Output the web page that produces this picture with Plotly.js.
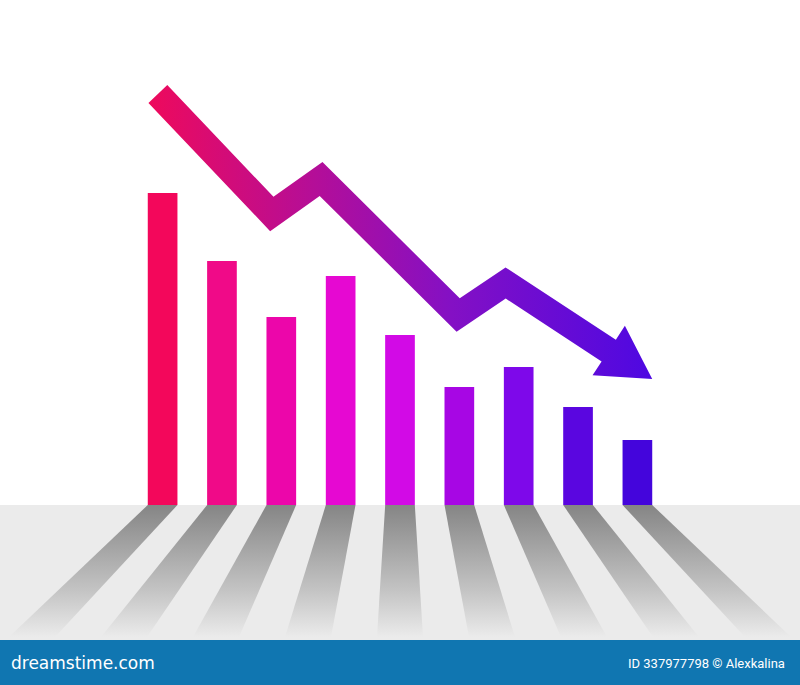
<!DOCTYPE html>
<html>
<head>
<meta charset="utf-8">
<script src="https://cdn.plot.ly/plotly-3.0.1.min.js"></script>
<style>
  html, body { margin: 0; padding: 0; background: #ffffff; }
  #chart { width: 800px; height: 685px; }
</style>
</head>
<body>
<div id="chart"></div>
<script>
// bar values
let barX = [0, 1, 2, 3, 4, 5, 6, 7, 8];
let barValues = [312, 244, 188, 229, 170, 118, 138, 98, 65];
let barColors = ["#f3075b", "#f00a88", "#ec06aa", "#e608d2", "#d20ae6",
                 "#a706e4", "#7e08ea", "#5a06e0", "#4405dc"];

// trend arrow (centre line), last point is the arrow tip
let trendX = [-0.08, 1.84, 2.67, 4.98, 5.78, 8.25];
let trendY = [411, 291, 326, 190, 222, 126];

let xRange = [-2.74, 10.74];
let yRange = [-180, 505];
let W = 800, H = 685;
let sx = W / (xRange[1] - xRange[0]);
let sy = H / (yRange[1] - yRange[0]);

function toPx(x, y) { return [(x - xRange[0]) * sx, y * sy]; }
function toData(p) { return [p[0] / sx + xRange[0], p[1] / sy]; }

function unit(a, b) {
    let dx = b[0] - a[0], dy = b[1] - a[1];
    let l = Math.sqrt(dx * dx + dy * dy);
    return [dx / l, dy / l];
}

function arrowPolygon(xs, ys, half, headLen, headHalf) {
    let pts = xs.map(function (x, i) { return toPx(x, ys[i]); });
    let n = pts.length;
    let tip = pts[n - 1];
    let dEnd = unit(pts[n - 2], tip);
    // shaft ends where the head begins
    let base = [tip[0] - dEnd[0] * headLen, tip[1] - dEnd[1] * headLen];
    let shaft = pts.slice(0, n - 1).concat([base]);

    let sideA = [], sideB = [];
    for (let i = 0; i < shaft.length; i++) {
        let off;
        if (i === 0 || i === shaft.length - 1) {
            let d = i === 0 ? unit(shaft[0], shaft[1]) : unit(shaft[i - 1], shaft[i]);
            off = [-d[1] * half, d[0] * half];
        } else {
            let d1 = unit(shaft[i - 1], shaft[i]);
            let d2 = unit(shaft[i], shaft[i + 1]);
            let n1 = [-d1[1], d1[0]], n2 = [-d2[1], d2[0]];
            let m = [n1[0] + n2[0], n1[1] + n2[1]];
            let ml = Math.sqrt(m[0] * m[0] + m[1] * m[1]);
            m = [m[0] / ml, m[1] / ml];
            let len = half / (m[0] * n1[0] + m[1] * n1[1]);
            off = [m[0] * len, m[1] * len];
        }
        sideA.push([shaft[i][0] + off[0], shaft[i][1] + off[1]]);
        sideB.push([shaft[i][0] - off[0], shaft[i][1] - off[1]]);
    }
    let nrm = [-dEnd[1], dEnd[0]];
    let headA = [base[0] + nrm[0] * headHalf, base[1] + nrm[1] * headHalf];
    let headB = [base[0] - nrm[0] * headHalf, base[1] - nrm[1] * headHalf];

    let poly = sideA.concat([headA, tip, headB], sideB.reverse());
    poly.push(poly[0]);
    poly = poly.map(toData);
    return { x: poly.map(function (p) { return p[0]; }), y: poly.map(function (p) { return p[1]; }) };
}

// perspective shadows on the floor, fanning out from the middle bar
function shadowTrace(i) {
    let w = 0.25, k = 1.55, depth = -132, mid = 4;
    let c2 = mid + (i - mid) * k;
    return {
        x: [i - w, i + w, c2 + w * k, c2 - w * k, i - w],
        y: [0, 0, depth, depth, 0],
        type: "scatter",
        mode: "lines",
        fill: "toself",
        line: { width: 0, color: "rgba(0,0,0,0)" },
        fillgradient: {
            type: "vertical",
            colorscale: [[0, "#ebebeb"], [0.35, "#c4c4c4"], [1, "#858585"]]
        },
        hoverinfo: "skip",
        showlegend: false
    };
}

let data = barX.map(shadowTrace);

data.push({
    x: barX,
    y: barValues,
    type: "bar",
    width: 0.5,
    marker: { color: barColors, line: { width: 0 } },
    hoverinfo: "skip",
    showlegend: false
});

let arrow = arrowPolygon(trendX, trendY, 13, 52, 29.5);
data.push({
    x: arrow.x,
    y: arrow.y,
    type: "scatter",
    mode: "lines",
    fill: "toself",
    line: { width: 0, color: "rgba(0,0,0,0)" },
    fillgradient: {
        type: "horizontal",
        colorscale: [[0, "#ee0a5c"], [0.33, "#b40e98"], [0.6, "#8410c4"], [1, "#4e08e2"]]
    },
    hoverinfo: "skip",
    showlegend: false
});

let layout = {
    width: W,
    height: H,
    margin: { l: 0, r: 0, t: 0, b: 0, pad: 0 },
    paper_bgcolor: "#ffffff",
    plot_bgcolor: "#ffffff",
    xaxis: { range: xRange, visible: false, fixedrange: true },
    yaxis: { range: yRange, visible: false, fixedrange: true },
    shapes: [
        { type: "rect", xref: "paper", yref: "y", x0: 0, x1: 1, y0: -135, y1: 0,
          fillcolor: "#ebebeb", line: { width: 0 }, layer: "below" },
        { type: "rect", xref: "paper", yref: "y", x0: 0, x1: 1, y0: -180, y1: -135,
          fillcolor: "#1076b1", line: { width: 0 }, layer: "above" }
    ],
    annotations: [
        { text: "dreamstime.com", xref: "paper", yref: "y", x: 0.011, y: -158,
          xanchor: "left", yanchor: "middle", showarrow: false,
          font: { family: "DejaVu Sans", size: 17, color: "#ffffff" } },
        { text: "ID 337977798 © Alexkalina", xref: "paper", yref: "y", x: 0.984, y: -158,
          xanchor: "right", yanchor: "middle", showarrow: false,
          font: { family: "Roboto", size: 13, color: "#ffffff" } }
    ]
};

Plotly.newPlot("chart", data, layout, { displayModeBar: false, staticPlot: true });
</script>
</body>
</html>
